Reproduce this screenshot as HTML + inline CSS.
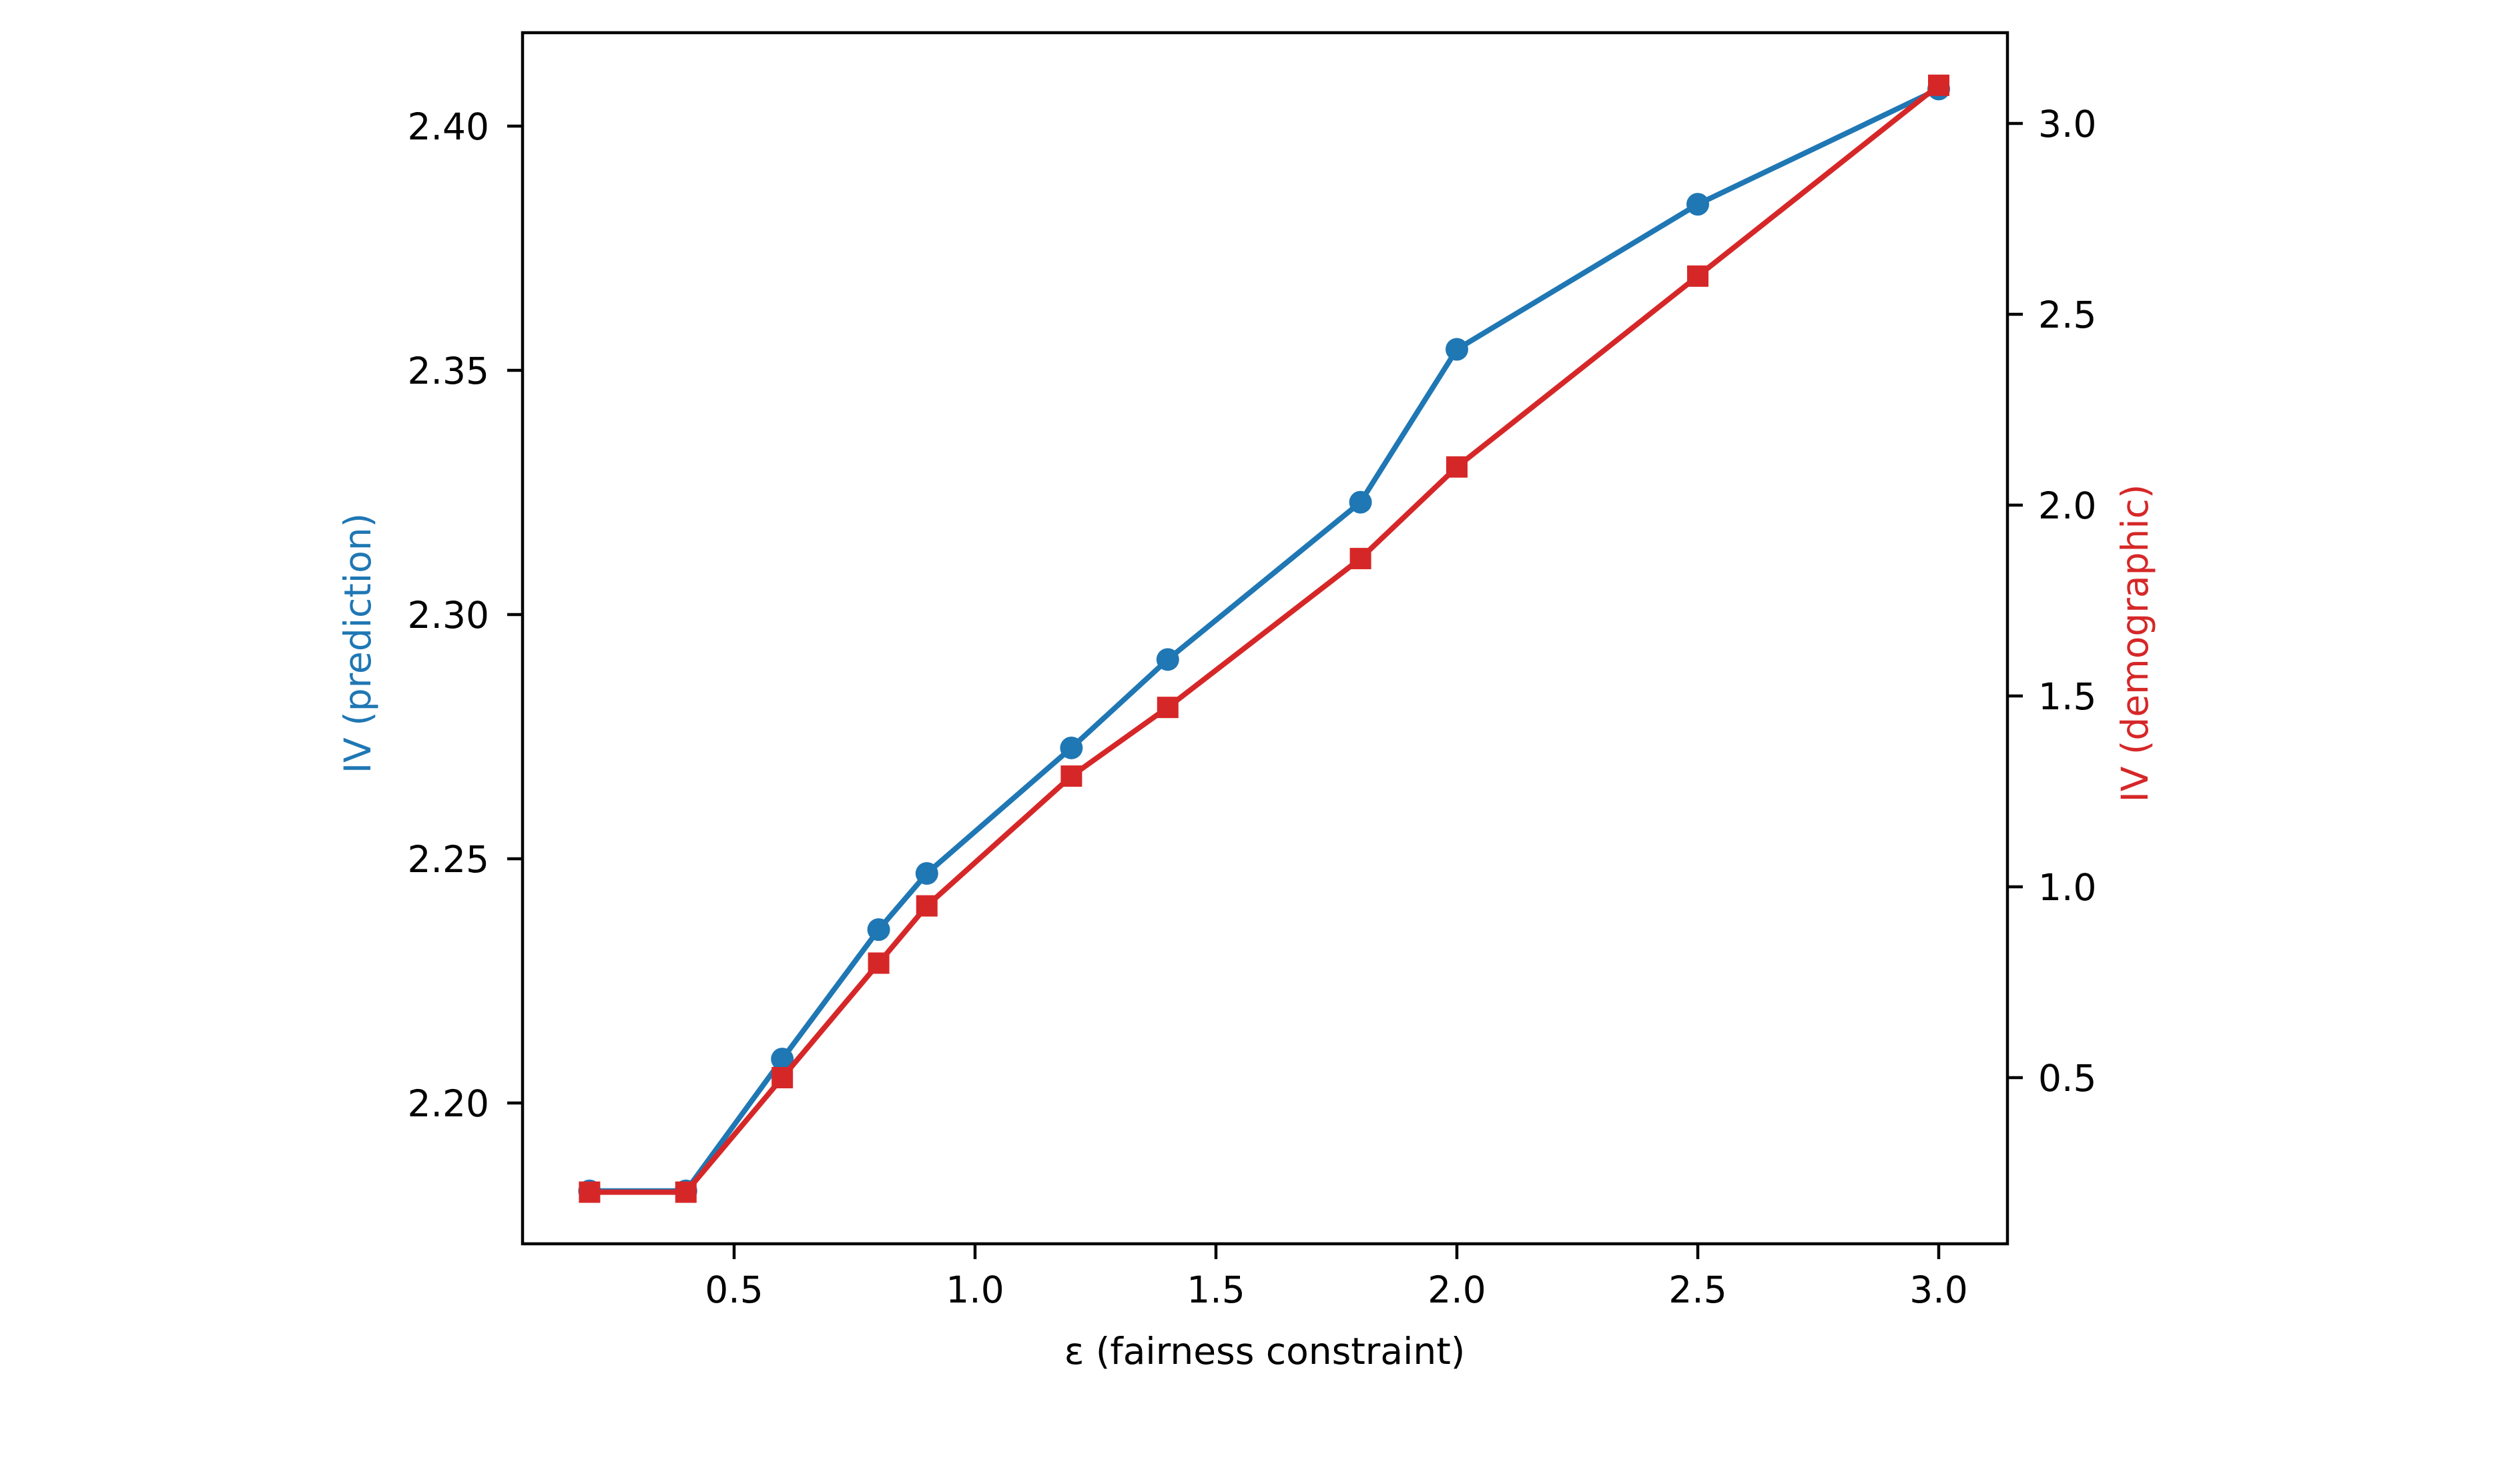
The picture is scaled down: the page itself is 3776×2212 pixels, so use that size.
<!DOCTYPE html>
<html><head><meta charset="utf-8"><style>html,body{margin:0;padding:0;background:#fff}svg{display:block}text{font-family:"DejaVu Sans","Liberation Sans",sans-serif}</style></head>
<body>
<svg id="chart" width="3776" height="2212" viewBox="0 0 3776 2212" xmlns="http://www.w3.org/2000/svg">
<rect width="3776" height="2212" fill="#fff"/>
<g id="plot"></g>
</svg>
<script>
const epsilon = [0.2,0.4,0.6,0.8,0.9,1.2,1.4,1.8,2.0,2.5,3.0];
const ivPrediction = [2.182,2.182,2.209,2.2355,2.247,2.2727,2.2908,2.323,2.3543,2.384,2.4076];
const ivDemographic = [0.2,0.2,0.5,0.8,0.95,1.29,1.47,1.86,2.1,2.6,3.1];
const xTicks = [0.5,1.0,1.5,2.0,2.5,3.0];
const xTickLabels = ["0.5","1.0","1.5","2.0","2.5","3.0"];
const yLeftTicks = [2.20,2.25,2.30,2.35,2.40];
const yLeftTickLabels = ["2.20","2.25","2.30","2.35","2.40"];
const yRightTicks = [0.5,1.0,1.5,2.0,2.5,3.0];
const yRightTickLabels = ["0.5","1.0","1.5","2.0","2.5","3.0"];

const L=783,R=3008,T=49,B=1864;
const NS="http://www.w3.org/2000/svg";
const g=document.getElementById('plot');
function xs(v){return 1100+(v-0.5)*722;}
function yl(v){return 189+(2.40-v)/0.05*366;}
function yr(v){return 1615-(v-0.5)/0.5*286;}
function mk(tag,attrs,parent){const e=document.createElementNS(NS,tag);for(const k in attrs)e.setAttribute(k,attrs[k]);(parent||g).appendChild(e);return e;}
const BLUE="#1f77b4",RED="#d62728";

// series lines
let pb=epsilon.map((x,i)=>xs(x)+","+yl(ivPrediction[i])).join(" ");
let lineB=mk('polyline',{points:pb,fill:"none",stroke:BLUE,"stroke-width":8,"stroke-linejoin":"round"});


epsilon.forEach((x,i)=>{
  const c=mk('circle',{cx:xs(x),cy:yl(ivPrediction[i]),r:17,fill:BLUE});
  
  
});
let pr=epsilon.map((x,i)=>xs(x)+","+yr(ivDemographic[i])).join(" ");
let lineR=mk('polyline',{points:pr,fill:"none",stroke:RED,"stroke-width":8,"stroke-linejoin":"round"});


epsilon.forEach((x,i)=>{
  const s=mk('rect',{x:xs(x)-16,y:yr(ivDemographic[i])-16,width:32,height:32,fill:RED});
  
  
});

// frame
const fr=mk('rect',{x:L,y:T,width:R-L,height:B-T,fill:"none",stroke:"#000","stroke-width":4.5});



xTicks.forEach((v,i)=>{
  const t=mk('line',{x1:xs(v),x2:xs(v),y1:B,y2:B+23,stroke:"#000","stroke-width":4.5});
  
  
  const tx=mk('text',{x:xs(v),y:1952,"font-size":55,"text-anchor":"middle",fill:"#000"});
  tx.textContent=xTickLabels[i];
  
  
});
yLeftTicks.forEach((v,i)=>{
  const t=mk('line',{x1:L-23,x2:L,y1:yl(v),y2:yl(v),stroke:"#000","stroke-width":4.5});
  
  
  const tx=mk('text',{x:733,y:yl(v)+20,"font-size":55,"text-anchor":"end",fill:"#000"});
  tx.textContent=yLeftTickLabels[i];
  
  
});
yRightTicks.forEach((v,i)=>{
  const t=mk('line',{x1:R,x2:R+23,y1:yr(v),y2:yr(v),stroke:"#000","stroke-width":4.5});
  
  
  const tx=mk('text',{x:3054,y:yr(v)+20,"font-size":55,"text-anchor":"start",fill:"#000"});
  tx.textContent=yRightTickLabels[i];
  
  
});

const xl=mk('text',{x:1895,y:2044,"font-size":55,"text-anchor":"middle",fill:"#000"});
xl.textContent="ε (fairness constraint)";


const ylL=mk('text',{x:0,y:0,"font-size":55,"text-anchor":"middle",fill:BLUE,transform:"translate(555,964) rotate(-90)"});
ylL.textContent="IV (prediction)";


const ylR=mk('text',{x:0,y:0,"font-size":55,"text-anchor":"middle",fill:RED,transform:"translate(3218,964) rotate(-90)"});
ylR.textContent="IV (demographic)";


</script>
</body></html>
